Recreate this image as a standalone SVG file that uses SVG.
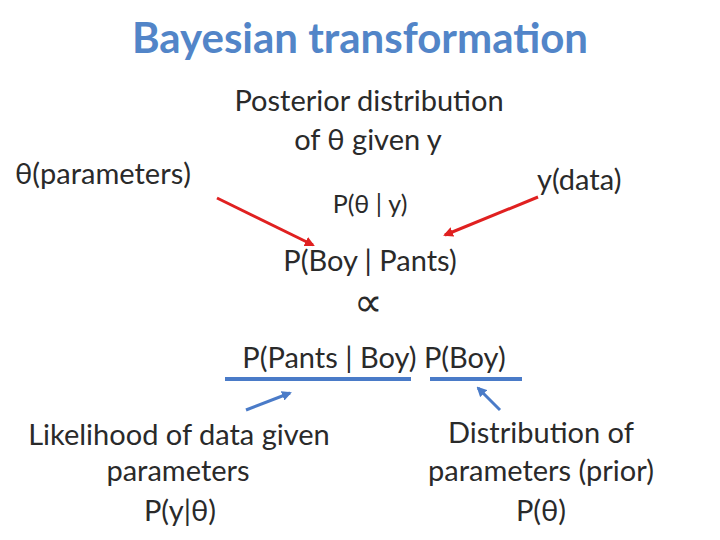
<svg xmlns="http://www.w3.org/2000/svg" width="720" height="540" viewBox="0 0 720 540">
<style>
text{font-family:Lato,"Open Sans","Liberation Sans",sans-serif;fill:#2a2a2a;font-size:29px}
.t{font-size:42px;font-weight:bold;fill:#5285C8}
.m{text-anchor:middle}
.ra{stroke:#E02020;stroke-width:3;fill:none}
.ba{stroke:#4A7BC8;stroke-width:3;fill:none}
.ul{stroke:#4A7BC8;stroke-width:4}
</style>
<defs>
<marker id="rh" markerWidth="10" markerHeight="10" refX="8" refY="5" orient="auto" markerUnits="userSpaceOnUse"><path d="M0,0L10,5L0,10z" fill="#E02020"/></marker>
<marker id="bh" markerWidth="10" markerHeight="10" refX="8" refY="5" orient="auto" markerUnits="userSpaceOnUse"><path d="M0,0L10,5L0,10z" fill="#4A7BC8"/></marker>
</defs>
<rect width="720" height="540" fill="#fff"/>
<g id="title"><text class="t m" x="360" y="53">Bayesian transformation</text></g>
<g id="posterior"><text class="m" x="369" y="111">Posterior distribution</text><text class="m" x="368" y="150">of θ given  y</text></g>
<g id="theta"><text x="15" y="184">θ(parameters)</text></g>
<g id="ydata"><text x="537" y="190">y(data)</text></g>
<g id="pty"><text class="m" x="370" y="213" style="font-size:25px">P(θ | y)</text></g>
<g id="pbp"><text class="m" x="370" y="271">P(Boy | Pants)</text></g>
<g id="prop"><text class="m" x="368" y="316" style="font-size:40px">∝</text></g>
<g id="rhs"><text class="m" x="374" y="368">P(Pants | Boy) P(Boy)</text></g>
<g id="likelihood"><text class="m" x="179" y="445">Likelihood of data given</text><text class="m" x="178" y="481">parameters</text><text class="m" x="180" y="521">P(y|θ)</text></g>
<g id="prior"><text class="m" x="541" y="443">Distribution of</text><text class="m" x="541" y="481">parameters (prior)</text><text class="m" x="541" y="521">P(θ)</text></g>
<g id="connectors">
<line class="ul" x1="225" y1="379" x2="411" y2="379"/>
<line class="ul" x1="430" y1="379" x2="522" y2="379"/>
<line class="ra" x1="217" y1="198" x2="313" y2="245" marker-end="url(#rh)"/>
<line class="ra" x1="538" y1="197" x2="445" y2="235" marker-end="url(#rh)"/>
<line class="ba" x1="246" y1="410" x2="290" y2="393" marker-end="url(#bh)"/>
<line class="ba" x1="500" y1="410" x2="478" y2="388" marker-end="url(#bh)"/>
</g>
</svg>
